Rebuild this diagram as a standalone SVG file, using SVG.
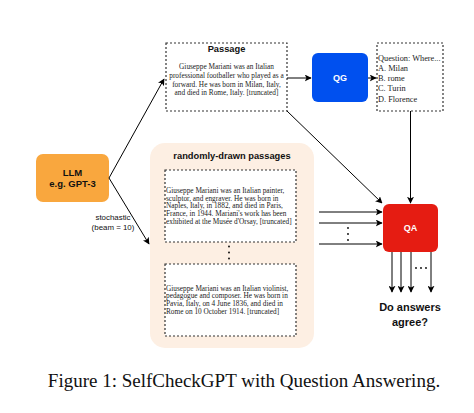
<svg xmlns="http://www.w3.org/2000/svg" width="474" height="413" viewBox="0 0 474 413">
<defs>
<style>
.dash{fill:#fff;stroke:#333;stroke-width:1.2;stroke-dasharray:2 2}
.ser{font-family:"Liberation Serif","Times New Roman",serif;fill:#222}
.sans{font-family:"Liberation Sans",Arial,sans-serif;fill:#111}
.b{font-weight:bold}
.c{stroke:#000;stroke-width:1;fill:none}
.dot{fill:#000}
</style>
<marker id="ah" viewBox="0 0 10 10" refX="9" refY="5" markerWidth="7" markerHeight="7" markerUnits="userSpaceOnUse" orient="auto">
<path d="M0,0 L10,5 L0,10 L2.5,5 z" fill="#000"/>
</marker>
</defs>
<rect width="474" height="413" fill="#fff"/>

<g id="llm">
<rect x="36" y="154" width="73" height="48" rx="7" fill="#f9a73e"/>
<text class="sans b" x="72.5" y="175.5" font-size="9.5" text-anchor="middle">LLM</text>
<text class="sans b" x="72.5" y="186.5" font-size="9.5" text-anchor="middle">e.g. GPT-3</text>
</g>

<g id="passage">
<rect class="dash" x="166" y="43" width="121" height="68"/>
<text class="sans b" x="226.5" y="52" font-size="9.3" text-anchor="middle">Passage</text>
<g class="ser" font-size="7.3" text-anchor="middle">
<text x="226.5" y="69">Giuseppe Mariani was an Italian</text>
<text x="226.5" y="77.8">professional footballer who played as a</text>
<text x="226.5" y="86.6">forward. He was born in Milan, Italy,</text>
<text x="226.5" y="95.4">and died in Rome, Italy. [truncated]</text>
</g>
</g>

<g id="qg">
<rect x="312" y="53" width="56" height="49" rx="6" fill="#0050ef"/>
<text x="340" y="80.5" font-size="9" text-anchor="middle" class="b" font-family="Liberation Sans,Arial,sans-serif" fill="#fff">QG</text>
</g>

<g id="question">
<rect class="dash" x="377" y="43" width="66" height="68"/>
<g class="ser" font-size="8.3">
<text x="378" y="61">Question: Where...</text>
<text x="378" y="71">A. Milan</text>
<text x="378" y="81">B. rome</text>
<text x="378" y="91.2">C. Turin</text>
<text x="378" y="101.5">D. Florence</text>
</g>
</g>

<g id="random-passages">
<rect x="150" y="143" width="164" height="205" rx="15" fill="#fdefe3"/>
<text class="sans b" x="232" y="158.5" font-size="9.3" text-anchor="middle">randomly-drawn passages</text>
<g id="sample1">
<rect class="dash" x="165" y="170" width="131" height="72" fill="#fdefe3"/>
<g class="ser" font-size="7.3">
<text x="166" y="192.8">Giuseppe Mariani was an Italian painter,</text>
<text x="166" y="200.5">sculptor, and engraver. He was born in</text>
<text x="166" y="208.2">Naples, Italy, in 1882, and died in Paris,</text>
<text x="166" y="215.9">France, in 1944. Mariani's work has been</text>
<text x="166" y="223.6">exhibited at the Musée d'Orsay, [truncated]</text>
</g>
</g>
<g class="dot">
<circle cx="229" cy="246.5" r="0.9"/>
<circle cx="229" cy="252.5" r="0.9"/>
<circle cx="229" cy="258.5" r="0.9"/>
</g>
<g id="sample2">
<rect class="dash" x="165" y="264" width="131" height="72" fill="#fdefe3"/>
<g class="ser" font-size="7.3">
<text x="166" y="290.8">Giuseppe Mariani was an Italian violinist,</text>
<text x="166" y="298.4">pedagogue and composer. He was born in</text>
<text x="166" y="306">Pavia, Italy, on 4 June 1836, and died in</text>
<text x="166" y="313.6">Rome on 10 October 1914. [truncated]</text>
</g>
</g>
</g>

<g id="qa">
<rect x="383" y="204" width="55" height="48" rx="6" fill="#e51c12"/>
<text x="410.5" y="231" font-size="9" text-anchor="middle" class="b" font-family="Liberation Sans,Arial,sans-serif" fill="#fff">QA</text>
</g>

<g id="labels">
<text class="sans" x="113" y="220" font-size="7.9" text-anchor="middle">stochastic</text>
<text class="sans" x="113" y="230" font-size="7.9" text-anchor="middle">(beam = 10)</text>
<text class="sans b" x="410" y="311" font-size="11" text-anchor="middle">Do answers</text>
<text class="sans b" x="410" y="326" font-size="11" text-anchor="middle">agree?</text>
</g>

<g id="connectors">
<path class="c" d="M109,178 L164,79" marker-end="url(#ah)"/>
<path class="c" d="M109,178 L149,244" marker-end="url(#ah)"/>
<path class="c" d="M287,78 L311,78" marker-end="url(#ah)"/>
<path class="c" d="M368,78 L376,78" marker-end="url(#ah)"/>
<path class="c" d="M287,111 L382,203" marker-end="url(#ah)"/>
<path class="c" d="M410.5,111 L410.5,203" marker-end="url(#ah)"/>
<path class="c" d="M319,212 L382,212" marker-end="url(#ah)"/>
<path class="c" d="M319,223 L382,223" marker-end="url(#ah)"/>
<path class="c" d="M319,244 L382,244" marker-end="url(#ah)"/>
<path class="c" d="M392,252 L392,292" marker-end="url(#ah)"/>
<path class="c" d="M401,252 L401,292" marker-end="url(#ah)"/>
<path class="c" d="M411,252 L411,292" marker-end="url(#ah)"/>
<path class="c" d="M431,252 L431,292" marker-end="url(#ah)"/>
<g class="dot">
<circle cx="348" cy="228" r="0.9"/>
<circle cx="348" cy="234" r="0.9"/>
<circle cx="348" cy="240" r="0.9"/>
<circle cx="416" cy="268" r="0.9"/>
<circle cx="421" cy="268" r="0.9"/>
<circle cx="426" cy="268" r="0.9"/>
</g>
</g>

<text x="244" y="387" font-size="19" text-anchor="middle" font-family="Liberation Serif,'Times New Roman',serif" fill="#111">Figure 1: SelfCheckGPT with Question Answering.</text>
</svg>
